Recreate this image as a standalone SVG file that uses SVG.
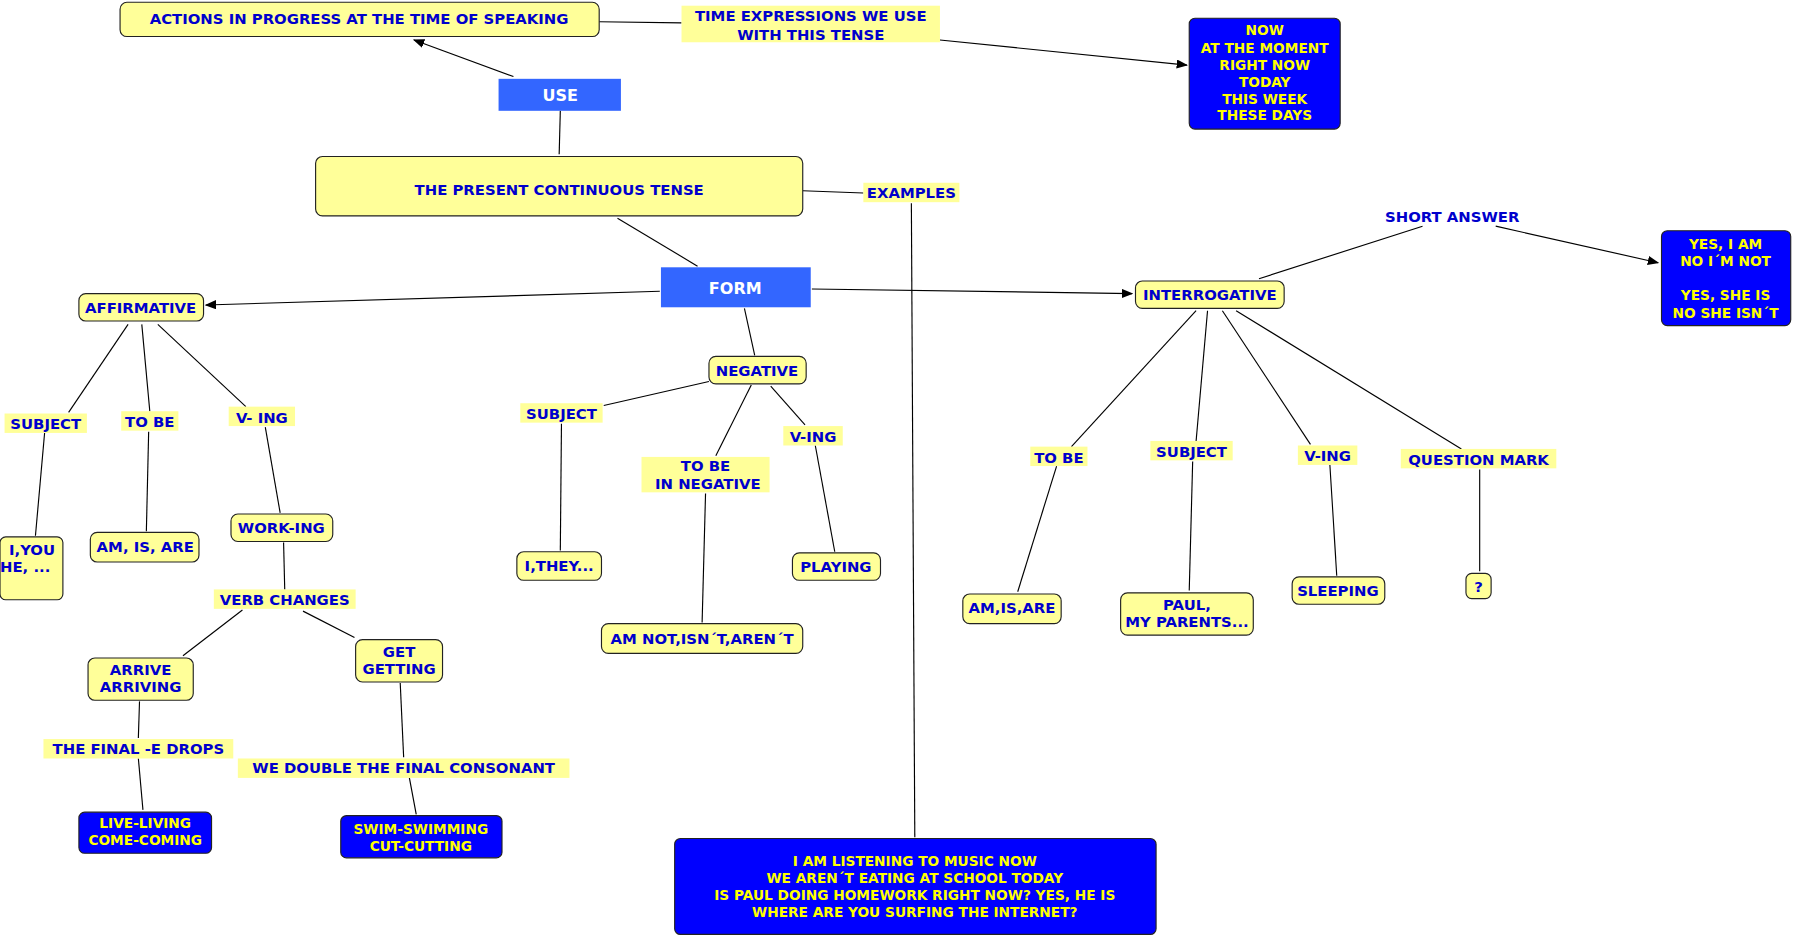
<svg xmlns="http://www.w3.org/2000/svg" width="1793" height="939" viewBox="0 0 1793 939">
<defs>
<marker id="ar" markerWidth="10" markerHeight="8" refX="9" refY="4" orient="auto" markerUnits="userSpaceOnUse"><path d="M0,0 L10,4 L0,8 z" fill="#000"/></marker>
<style>
text{font-family:"DejaVu Sans",Verdana,sans-serif;font-weight:bold;text-anchor:middle;font-size:13px}
.y{fill:#ffff99;stroke:#222;stroke-width:1}
.b{fill:#0000ff;stroke:#222;stroke-width:1}
.u{fill:#3366ff}
.l{fill:#ffff99}
.bt{fill:#0000cc}
.yt{fill:#ffff00;font-size:12px}
.wt{fill:#fff;font-size:14px}
line{stroke:#000;stroke-width:1}
.a{marker-end:url(#ar)}
</style>
</defs>
<rect width="1793" height="939" fill="#fff"/>
<g transform="scale(1.1435,1.1423)">
<g id="connectors">
<line class="a" x1="449" y1="67" x2="362" y2="35"/>
<line x1="524" y1="19" x2="596" y2="20"/>
<line class="a" x1="822" y1="35" x2="1038" y2="57"/>
<line x1="490" y1="97" x2="489" y2="135"/>
<line x1="702" y1="167" x2="755" y2="169"/>
<line x1="797" y1="178" x2="800" y2="733"/>
<line x1="540" y1="191" x2="610" y2="233"/>
<line class="a" x1="577" y1="255" x2="180" y2="267"/>
<line class="a" x1="710" y1="253" x2="990" y2="257"/>
<line x1="651" y1="270" x2="660" y2="311"/>
<line x1="1101" y1="244" x2="1244" y2="198"/>
<line class="a" x1="1308" y1="198" x2="1450" y2="230"/>
<line x1="112" y1="284" x2="60" y2="361"/>
<line x1="39" y1="379" x2="31" y2="469"/>
<line x1="124" y1="284" x2="131" y2="360"/>
<line x1="130" y1="378" x2="128" y2="465"/>
<line x1="138" y1="284" x2="215" y2="356"/>
<line x1="232" y1="374" x2="245" y2="449"/>
<line x1="248" y1="475" x2="249" y2="516"/>
<line x1="212" y1="534" x2="160" y2="574"/>
<line x1="265" y1="535" x2="310" y2="558"/>
<line x1="122" y1="614" x2="121" y2="646"/>
<line x1="121" y1="664" x2="125" y2="709"/>
<line x1="350" y1="598" x2="353" y2="663"/>
<line x1="358" y1="681" x2="364" y2="713"/>
<line x1="620" y1="334" x2="528" y2="355"/>
<line x1="491" y1="371" x2="490" y2="482"/>
<line x1="657" y1="337" x2="626" y2="399"/>
<line x1="617" y1="432" x2="614" y2="545"/>
<line x1="674" y1="338" x2="704" y2="372"/>
<line x1="713" y1="390" x2="730" y2="483"/>
<line x1="1046" y1="272" x2="937" y2="391"/>
<line x1="924" y1="408" x2="890" y2="518"/>
<line x1="1056" y1="272" x2="1046" y2="386"/>
<line x1="1043" y1="404" x2="1040" y2="517"/>
<line x1="1069" y1="272" x2="1146" y2="389"/>
<line x1="1163" y1="407" x2="1169" y2="504"/>
<line x1="1081" y1="272" x2="1278" y2="393"/>
<line x1="1294" y1="411" x2="1294" y2="500"/>
</g>
<g id="actions"><rect class="y" x="105" y="2" width="419" height="30" rx="6"/><text class="bt" x="314" y="21" font-size="14">ACTIONS IN PROGRESS AT THE TIME OF SPEAKING</text></g>
<g id="timeexp"><rect class="l" x="596" y="5" width="226" height="32"/><text class="bt" x="709" y="18" font-size="14">TIME EXPRESSIONS WE USE</text><text class="bt" x="709" y="35" font-size="14">WITH THIS TENSE</text></g>
<g id="now"><rect class="b" x="1040" y="16" width="132" height="97" rx="5"/><text class="yt" x="1106" y="31">NOW</text><text class="yt" x="1106" y="46">AT THE MOMENT</text><text class="yt" x="1106" y="61">RIGHT NOW</text><text class="yt" x="1106" y="76">TODAY</text><text class="yt" x="1106" y="91">THIS WEEK</text><text class="yt" x="1106" y="105">THESE DAYS</text></g>
<g id="use"><rect class="u" x="436" y="69" width="107" height="28"/><text class="wt" x="490" y="88">USE</text></g>
<g id="main"><rect class="y" x="276" y="137" width="426" height="52" rx="6"/><text class="bt" x="489" y="171" font-size="22">THE PRESENT CONTINUOUS TENSE</text></g>
<g id="examples"><rect class="l" x="755" y="160" width="84" height="17"/><text class="bt" x="797" y="173" font-size="14">EXAMPLES</text></g>
<g id="form"><rect class="u" x="578" y="234" width="131" height="35"/><text class="wt" x="643" y="257">FORM</text></g>
<g id="affirmative"><rect class="y" x="69" y="257" width="109" height="24" rx="6"/><text class="bt" x="123" y="274">AFFIRMATIVE</text></g>
<g id="negative"><rect class="y" x="620" y="312" width="85" height="24" rx="6"/><text class="bt" x="662" y="329">NEGATIVE</text></g>
<g id="interrogative"><rect class="y" x="993" y="246" width="130" height="24" rx="6"/><text class="bt" x="1058" y="263">INTERROGATIVE</text></g>
<g id="shortanswer"><text class="bt" x="1270" y="194" font-size="14">SHORT ANSWER</text></g>
<g id="yes"><rect class="b" x="1453" y="202" width="113" height="83" rx="5"/><text class="yt" x="1509" y="218">YES, I AM</text><text class="yt" x="1509" y="233">NO I´M NOT</text><text class="yt" x="1509" y="263">YES, SHE IS</text><text class="yt" x="1509" y="278">NO SHE ISN´T</text></g>
<g id="a-subject"><rect class="l" x="4" y="362" width="72" height="17"/><text class="bt" x="40" y="376" font-size="14">SUBJECT</text></g>
<g id="a-tobe"><rect class="l" x="106" y="360" width="50" height="17"/><text class="bt" x="131" y="374" font-size="14">TO BE</text></g>
<g id="a-ving"><rect class="l" x="200" y="356" width="58" height="17"/><text class="bt" x="229" y="370" font-size="14">V- ING</text></g>
<g id="iyou"><rect class="y" x="0" y="470" width="55" height="55" rx="5"/><text class="bt" x="28" y="486">I,YOU</text><text class="bt" x="22" y="501">HE, ...</text></g>
<g id="amisare"><rect class="y" x="79" y="466" width="95" height="26" rx="6"/><text class="bt" x="127" y="483">AM, IS, ARE</text></g>
<g id="working"><rect class="y" x="202" y="450" width="89" height="24" rx="6"/><text class="bt" x="246" y="467">WORK-ING</text></g>
<g id="verbchanges"><rect class="l" x="187" y="516" width="124" height="17"/><text class="bt" x="249" y="530" font-size="14">VERB CHANGES</text></g>
<g id="arrive"><rect class="y" x="77" y="576" width="92" height="37" rx="6"/><text class="bt" x="123" y="591">ARRIVE</text><text class="bt" x="123" y="606">ARRIVING</text></g>
<g id="get"><rect class="y" x="311" y="560" width="76" height="37" rx="6"/><text class="bt" x="349" y="575">GET</text><text class="bt" x="349" y="590">GETTING</text></g>
<g id="finale"><rect class="l" x="38" y="647" width="166" height="17"/><text class="bt" x="121" y="660" font-size="14">THE FINAL -E DROPS</text></g>
<g id="double"><rect class="l" x="208" y="664" width="290" height="17"/><text class="bt" x="353" y="677" font-size="14">WE DOUBLE THE FINAL CONSONANT</text></g>
<g id="live"><rect class="b" x="69" y="711" width="116" height="36" rx="5"/><text class="yt" x="127" y="725">LIVE-LIVING</text><text class="yt" x="127" y="740">COME-COMING</text></g>
<g id="swim"><rect class="b" x="298" y="714" width="141" height="37" rx="5"/><text class="yt" x="368" y="730">SWIM-SWIMMING</text><text class="yt" x="368" y="745">CUT-CUTTING</text></g>
<g id="n-subject"><rect class="l" x="455" y="353" width="72" height="17"/><text class="bt" x="491" y="367" font-size="14">SUBJECT</text></g>
<g id="n-tobe"><rect class="l" x="561" y="400" width="112" height="31"/><text class="bt" x="617" y="412" font-size="14">TO BE</text><text class="bt" x="619" y="428" font-size="14">IN NEGATIVE</text></g>
<g id="n-ving"><rect class="l" x="685" y="373" width="52" height="17"/><text class="bt" x="711" y="387" font-size="14">V-ING</text></g>
<g id="ithey"><rect class="y" x="452" y="483" width="74" height="25" rx="6"/><text class="bt" x="489" y="500">I,THEY...</text></g>
<g id="amnot"><rect class="y" x="526" y="546" width="176" height="26" rx="6"/><text class="bt" x="614" y="564">AM NOT,ISN´T,AREN´T</text></g>
<g id="playing"><rect class="y" x="693" y="484" width="77" height="24" rx="6"/><text class="bt" x="731" y="501">PLAYING</text></g>
<g id="i-tobe"><rect class="l" x="901" y="391" width="50" height="17"/><text class="bt" x="926" y="405" font-size="14">TO BE</text></g>
<g id="i-subject"><rect class="l" x="1006" y="386" width="72" height="17"/><text class="bt" x="1042" y="400" font-size="14">SUBJECT</text></g>
<g id="i-ving"><rect class="l" x="1135" y="390" width="52" height="17"/><text class="bt" x="1161" y="404" font-size="14">V-ING</text></g>
<g id="i-qmark"><rect class="l" x="1225" y="393" width="136" height="17"/><text class="bt" x="1293" y="407" font-size="14">QUESTION MARK</text></g>
<g id="i-amisare"><rect class="y" x="842" y="520" width="86" height="26" rx="6"/><text class="bt" x="885" y="537">AM,IS,ARE</text></g>
<g id="paul"><rect class="y" x="980" y="519" width="116" height="37" rx="6"/><text class="bt" x="1038" y="534">PAUL,</text><text class="bt" x="1038" y="549">MY PARENTS...</text></g>
<g id="sleeping"><rect class="y" x="1130" y="505" width="81" height="24" rx="6"/><text class="bt" x="1170" y="522">SLEEPING</text></g>
<g id="qm"><rect class="y" x="1282" y="502" width="22" height="22" rx="5"/><text class="bt" x="1293" y="518">?</text></g>
<g id="exbox"><rect class="b" x="590" y="734" width="421" height="84" rx="5"/><text class="yt" x="800" y="758">I AM LISTENING TO MUSIC NOW</text><text class="yt" x="800" y="773">WE AREN´T EATING AT SCHOOL TODAY</text><text class="yt" x="800" y="788">IS PAUL DOING HOMEWORK RIGHT NOW? YES, HE IS</text><text class="yt" x="800" y="803">WHERE ARE YOU SURFING THE INTERNET?</text></g>
</g>
</svg>
